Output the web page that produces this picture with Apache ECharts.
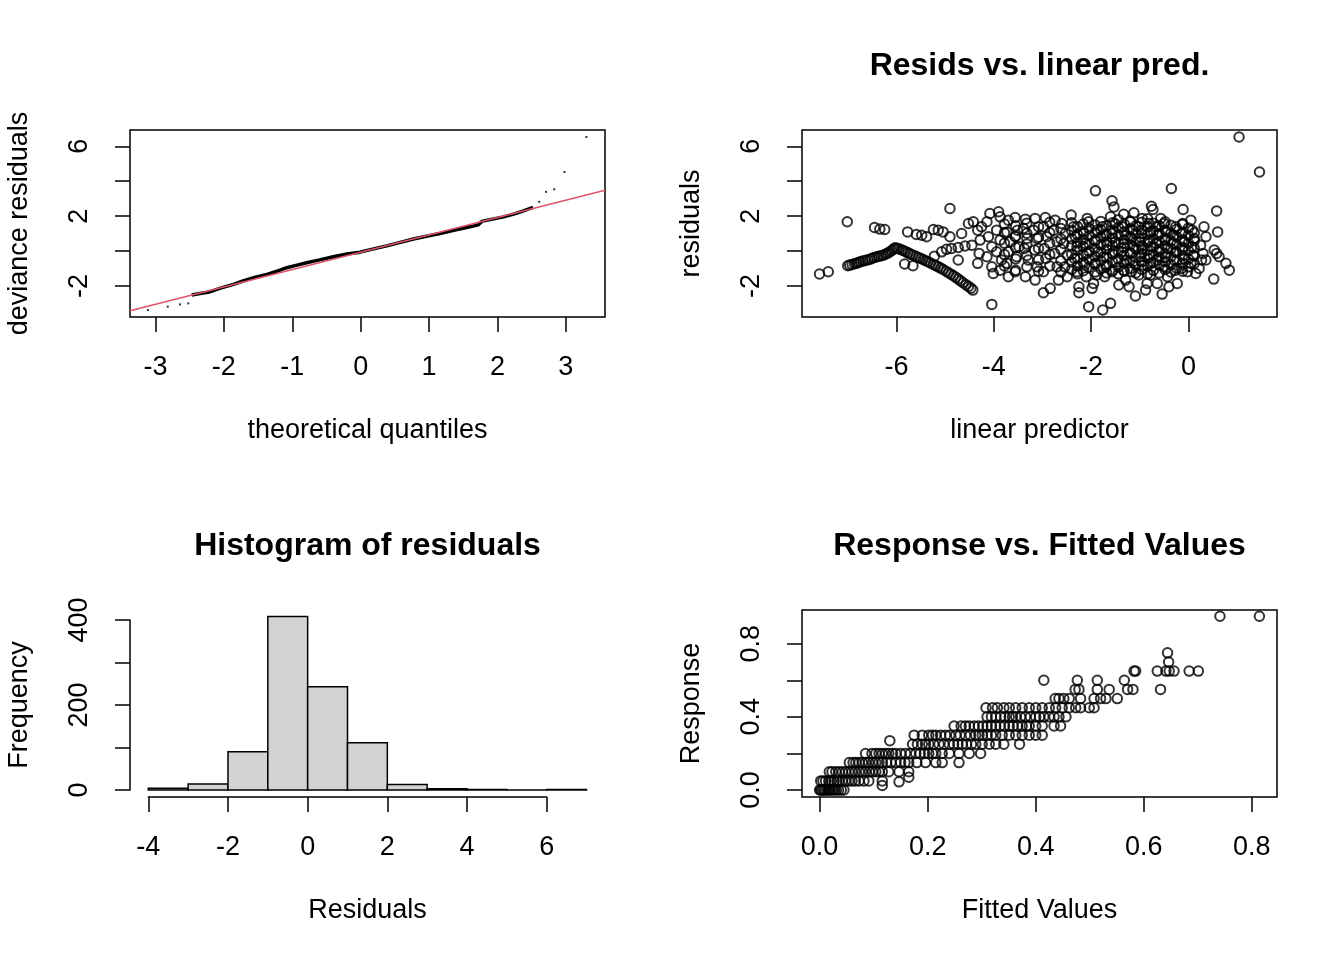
<!DOCTYPE html>
<html>
<head>
<meta charset="utf-8">
<title>gam.check</title>
<script src="https://cdn.jsdelivr.net/npm/echarts@6/dist/echarts.min.js"></script>
<style>
  html, body { margin: 0; padding: 0; background: #fff; }
  #chart { width: 1344px; height: 960px; }
</style>
</head>
<body>
<div id="chart"></div>
<script>
// ---- QQ plot (theoretical quantile, deviance residual) ----
// dense middle part of the points, read along the band
const qqBand = [[-2.47,-2.51],[-2.35,-2.42],[-2.23,-2.36],[-2.06,-2.13],[-1.86,-1.90],[-1.72,-1.71],
  [-1.55,-1.50],[-1.37,-1.33],[-1.20,-1.12],[-1.08,-0.95],[-0.93,-0.80],[-0.79,-0.67],[-0.60,-0.50],
  [-0.40,-0.32],[-0.20,-0.17],[-0.01,-0.06],[0.19,0.13],[0.38,0.30],[0.58,0.50],[0.77,0.69],[0.96,0.85],
  [1.16,1.01],[1.36,1.19],[1.55,1.35],[1.72,1.50],[1.77,1.70],[1.89,1.80],[2.09,1.96],[2.25,2.13],
  [2.38,2.30],[2.52,2.50]];
// loose points in the tails
const qqTail = [[-3.11,-3.37],[-2.82,-3.18],[-2.64,-3.05],[-2.52,-2.99],[2.61,2.82],[2.71,3.39],
  [2.83,3.54],[2.98,4.53],[3.30,6.53]];
// reference line, given by its ends at the plot edges
const qqRef = [[-3.372,-3.41],[3.572,3.486]];

// ---- residuals vs linear predictor ----
const linPredResid = [
  // chain on the left: up to the kink near -6, then down
  [-7.58,-1.31],[-7.40,-1.18],[-7.01,1.68],[-7.00,-0.84],[-6.96,-0.80],[-6.91,-0.76],[-6.86,-0.72],
  [-6.82,-0.69],[-6.78,-0.65],[-6.74,-0.61],[-6.69,-0.57],[-6.64,-0.53],[-6.59,-0.50],[-6.54,-0.46],
  [-6.50,-0.41],[-6.45,-0.36],[-6.40,-0.32],[-6.36,-0.29],[-6.31,-0.26],[-6.27,-0.23],[-6.23,-0.18],
  [-6.19,-0.13],[-6.15,-0.06],[-6.10,0.02],[-6.06,0.11],[-6.03,0.19],[-5.99,0.16],[-5.95,0.13],
  [-5.90,0.08],[-5.86,0.04],[-5.81,-0.03],[-5.76,-0.10],[-5.71,-0.17],[-5.66,-0.23],[-5.60,-0.30],
  [-5.55,-0.36],[-5.50,-0.42],[-5.45,-0.48],[-5.40,-0.55],[-5.35,-0.61],[-5.30,-0.68],[-5.24,-0.76],
  [-5.19,-0.83],[-5.14,-0.90],[-5.09,-0.97],[-5.04,-1.05],[-4.98,-1.15],[-4.93,-1.24],[-4.88,-1.32],
  [-4.83,-1.41],[-4.78,-1.50],[-4.73,-1.60],[-4.68,-1.70],[-4.63,-1.81],[-4.57,-1.92],[-4.52,-2.02],
  [-4.47,-2.12],[-4.43,-2.23],
  [-6.45,1.35],[-6.34,1.26],[-6.24,1.24],[-5.77,1.10],[-5.59,0.95],[-5.48,0.91],[-5.38,0.82],
  [-5.24,1.24],[-5.14,1.20],[-5.04,1.10],[-4.90,0.82],[-4.90,2.44],[-5.83,-0.74],[-5.66,-0.84],
  [-5.22,-0.29],[-5.07,-0.04],[-4.97,0.10],[-4.87,0.15],[-4.73,0.21],[-4.59,0.29],[-4.45,0.34],
  [-4.73,-0.51],[-4.66,1.01],[-4.52,1.58],[-4.42,1.68],
  [-4.33,1.20],[-4.28,0.63],[-4.30,-0.13],[-4.33,-0.70],[-4.25,1.39],
  [-4.14,1.68],[-4.08,2.15],[-4.11,0.82],[-4.04,0.25],[-4.14,-0.32],[-4.04,-0.90],[-4.01,-1.28],[-4.04,-3.05],
  [-3.90,2.25],[-3.87,1.96],[-3.94,1.20],[-3.87,0.63],[-3.94,-0.04],[-3.84,-0.51],[-3.87,-1.09],
  [-3.70,1.77],[-3.73,1.10],[-3.66,0.53],[-3.70,-0.04],[-3.73,-0.70],[-3.70,-1.47],
  [-3.56,1.92],[-3.51,1.20],[-3.56,0.82],[-3.48,0.25],[-3.53,-0.32],[-3.56,-1.18],
  [-3.35,1.83],[-3.39,1.30],[-3.32,0.72],[-3.37,0.15],[-3.29,-0.51],[-3.35,-1.47],
  [-3.15,1.87],[-3.18,1.20],[-3.11,0.72],[-3.16,0.06],[-3.11,-0.90],[-3.15,-1.66],
  [-2.94,1.92],[-2.98,1.39],[-2.91,0.82],[-2.96,0.15],[-2.93,-0.42],[-2.98,-1.18],[-2.98,-2.38],[-2.84,-2.13],
  [-2.74,1.77],[-2.77,1.20],[-2.70,0.53],[-2.75,-0.13],[-2.70,-0.90],[-2.67,-1.66],
  [-2.60,1.58],[-2.53,1.01],[-2.56,0.44],[-2.49,-0.23],[-2.54,-0.90],[-2.49,-1.47],
  [-2.41,2.06],[-2.36,1.39],[-2.32,0.82],[-2.29,0.25],[-2.34,-0.42],[-2.29,-1.18],[-2.25,-2.04],[-2.25,-2.38],
  [-2.08,1.87],[-2.05,1.68],[-2.15,1.01],[-2.12,0.44],[-2.08,-0.13],[-2.13,-0.80],[-2.10,-1.47],[-2.05,-3.18],[-1.98,-2.13],
  [-1.91,3.45],[-1.88,1.20],[-1.91,0.63],[-1.86,-0.04],[-1.91,-0.70],[-1.88,-1.37],[-1.95,-1.85],
  [-1.77,1.39],[-1.70,0.91],[-1.67,0.34],[-1.74,-0.32],[-1.69,-0.90],[-1.72,-1.47],[-1.76,-3.37],[-1.60,-2.99],
  [-1.60,1.96],[-1.57,2.88],[-1.53,2.53],[-1.51,1.58],[-1.57,1.01],[-1.50,0.53],[-1.53,-0.04],[-1.48,-0.61],[-1.57,-1.18],[-1.43,-1.94],
  [-1.33,2.11],[-1.36,1.39],[-1.29,0.91],[-1.33,0.44],[-1.37,-0.04],[-1.28,-0.51],[-1.33,-1.09],[-1.29,-1.66],[-1.22,-2.04],
  [-1.12,2.19],[-1.19,1.68],[-1.14,1.20],[-1.17,0.72],[-1.12,0.25],[-1.19,-0.13],[-1.14,-0.61],[-1.17,-1.18],[-1.09,-2.57],
  [-0.95,1.87],[-1.02,1.39],[-0.96,1.01],[-1.00,0.53],[-0.95,0.10],[-0.98,-0.32],[-0.93,-0.80],[-1.02,-1.37],[-0.88,-2.23],
  [-0.76,2.57],[-0.73,2.38],[-0.81,1.58],[-0.78,1.10],[-0.82,0.63],[-0.77,0.25],[-0.81,-0.23],[-0.78,-0.70],[-0.78,-1.37],[-0.85,-1.85],
  [-0.57,1.87],[-0.67,1.39],[-0.62,0.91],[-0.66,0.44],[-0.60,-0.04],[-0.64,-0.51],[-0.64,-1.85],[-0.54,-2.46],
  [-0.50,1.58],[-0.45,1.10],[-0.48,0.63],[-0.43,0.15],[-0.47,-0.32],[-0.50,-0.90],[-0.40,-2.04],[-0.43,-1.47],
  [-0.35,3.58],[-0.26,1.39],[-0.30,0.91],[-0.32,0.44],[-0.26,-0.04],[-0.30,-0.51],[-0.27,-1.09],[-0.23,-1.85],
  [-0.11,2.38],[-0.12,1.58],[-0.14,1.01],[-0.09,0.53],[-0.12,0.06],[-0.09,-0.42],[-0.14,-0.99],[-0.02,-1.18],
  [0.05,1.77],[0.08,1.20],[0.12,0.72],[0.07,0.25],[0.10,-0.23],[0.05,-0.70],[0.15,-1.28],
  [0.32,1.39],[0.36,0.82],[0.25,0.34],[0.30,-0.13],[0.27,-0.51],[0.22,-0.99],[0.36,-0.51],
  [0.58,2.30],[0.60,1.10],[0.53,0.06],[0.58,-0.13],[0.63,-0.32],[0.52,-1.60],[0.77,-0.70],[0.84,-1.09],
  [1.04,6.53],[1.46,4.53]
];
// the packed core of the cloud, column by column (predictor, then residuals in that column)
const coreX = [-3.78, -3.55, -3.32, -3.08, -2.85, -2.62, -2.40, -2.28, -2.16, -2.04, -1.92, -1.80, -1.68,
  -1.56, -1.44, -1.32, -1.20, -1.08, -0.96, -0.84, -0.72, -0.60, -0.48, -0.36, -0.24, -0.12, 0.00, 0.12];
const coreY = [
  [-0.85,-0.20,0.45,1.05,1.55], [-1.10,-0.45,0.20,0.85,1.45], [-0.90,-0.25,0.40,1.02,1.60],
  [-1.15,-0.50,0.15,0.80,1.40], [-0.85,-0.20,0.45,1.05,1.65], [-1.20,-0.55,0.10,0.70,1.30],
  [-1.05,-0.62,-0.18,0.30,0.71,1.18,1.62], [-1.30,-0.85,-0.40,0.05,0.48,0.95,1.40],
  [-1.12,-0.66,-0.22,0.26,0.68,1.12,1.55], [-0.92,-0.48,-0.02,0.42,0.88,1.30],
  [-1.20,-0.75,-0.30,0.15,0.58,1.05,1.50], [-1.02,-0.55,-0.10,0.36,0.80,1.24,1.70],
  [-1.25,-0.80,-0.35,0.10,0.52,0.98,1.45], [-1.08,-0.62,-0.15,0.30,0.74,1.20,1.62],
  [-1.30,-0.92,-0.45,0.00,0.45,0.90,1.35,1.80], [-1.15,-0.70,-0.25,0.20,0.65,1.10,1.55],
  [-1.00,-0.55,-0.08,0.36,0.82,1.28,1.72], [-1.25,-0.80,-0.35,0.12,0.56,1.00,1.45],
  [-1.05,-0.60,-0.15,0.30,0.75,1.20,1.65], [-1.30,-0.85,-0.40,0.05,0.50,0.95,1.40,1.85],
  [-1.10,-0.65,-0.20,0.25,0.70,1.15,1.60], [-1.25,-0.80,-0.35,0.10,0.55,1.00,1.45],
  [-1.05,-0.60,-0.15,0.30,0.75,1.20,1.68], [-1.20,-0.78,-0.32,0.14,0.58,1.02,1.48],
  [-0.98,-0.52,-0.08,0.38,0.82,1.25], [-1.15,-0.70,-0.25,0.20,0.64,1.08,1.52],
  [-0.90,-0.45,0.02,0.45,0.90,1.32], [-0.70,-0.28,0.18,0.60,1.05]
];

// ---- histogram of residuals ----
const histBreaks = [-4, -3, -2, -1, 0, 1, 2, 3, 4, 5, 6, 7];
const histCounts = [4, 14, 90, 408, 243, 111, 13, 3, 1, 0, 1];

// ---- response vs fitted values (response comes in steps of 0.05) ----
const respLevels = [0.95, 0.75, 0.70, 0.65, 0.60, 0.55, 0.50, 0.45, 0.40, 0.35, 0.30, 0.25, 0.20, 0.15, 0.10, 0.05, 0.00];
const fittedAtLevel = [
  [0.741, 0.814],
  [0.644],
  [0.646],
  [0.582, 0.585, 0.625, 0.641, 0.647, 0.656, 0.684, 0.701],
  [0.415, 0.477, 0.514, 0.564],
  [0.473, 0.480, 0.514, 0.536, 0.570, 0.580, 0.631],
  [0.436, 0.443, 0.452, 0.462, 0.483, 0.508, 0.520, 0.530, 0.551],
  [0.308, 0.320, 0.329, 0.341, 0.351, 0.363, 0.375, 0.388, 0.400, 0.412, 0.425, 0.437, 0.449, 0.462, 0.474, 0.483, 0.499, 0.508],
  [0.310, 0.318, 0.326, 0.335, 0.343, 0.351, 0.357, 0.363, 0.372, 0.381, 0.390, 0.400, 0.407, 0.415, 0.425, 0.434, 0.443, 0.456],
  [0.249, 0.262, 0.270, 0.277, 0.286, 0.294, 0.302, 0.310, 0.318, 0.326, 0.334, 0.342, 0.351, 0.358, 0.366, 0.375, 0.383, 0.388, 0.400, 0.412, 0.434, 0.446],
  [0.175, 0.190, 0.202, 0.209, 0.215, 0.224, 0.233, 0.241, 0.252, 0.260, 0.270, 0.279, 0.289, 0.295, 0.301, 0.310, 0.318, 0.326, 0.338, 0.351, 0.363, 0.375, 0.388, 0.400, 0.412],
  [0.172, 0.181, 0.190, 0.196, 0.202, 0.211, 0.221, 0.230, 0.240, 0.248, 0.256, 0.264, 0.272, 0.281, 0.289, 0.301, 0.314, 0.326, 0.341, 0.370],
  [0.085, 0.097, 0.104, 0.110, 0.116, 0.122, 0.128, 0.135, 0.141, 0.150, 0.159, 0.168, 0.178, 0.186, 0.194, 0.202, 0.209, 0.215, 0.227, 0.240, 0.258, 0.277, 0.298],
  [0.055, 0.062, 0.067, 0.073, 0.079, 0.085, 0.091, 0.098, 0.104, 0.110, 0.116, 0.124, 0.132, 0.141, 0.150, 0.158, 0.165, 0.180, 0.196, 0.215, 0.227, 0.258],
  [0.018, 0.023, 0.030, 0.036, 0.042, 0.048, 0.054, 0.060, 0.066, 0.073, 0.079, 0.085, 0.092, 0.098, 0.104, 0.110, 0.116, 0.128, 0.147, 0.165],
  [0.002, 0.006, 0.011, 0.017, 0.022, 0.027, 0.032, 0.036, 0.042, 0.048, 0.054, 0.060, 0.066, 0.073, 0.082, 0.091, 0.116],
  [0.000, 0.002, 0.004, 0.007, 0.009, 0.012, 0.015, 0.018, 0.020, 0.024, 0.027, 0.031, 0.035, 0.040, 0.045]
];
const respStrays = [[0.130, 0.27], [0.165, 0.07], [0.147, 0.045], [0.116, 0.025]];

const residPts = linPredResid.slice();
coreX.forEach((x, i) => coreY[i].forEach(y => residPts.push([x, y])));

const fittedPts = [];
respLevels.forEach((r, i) => fittedAtLevel[i].forEach(f => fittedPts.push([f, r])));
respStrays.forEach(p => fittedPts.push(p));

// ---- look ----
const FONT = '"Liberation Sans", Arial, Helvetica, sans-serif';
const INK = '#000';
const LW = 1.5;
const FS = 27;

// R-like axis: outside ticks, custom tick / label positions, no split lines
function rAxis(o) {
  return {
    type: 'value',
    gridIndex: o.grid,
    min: o.min,
    max: o.max,
    interval: o.interval,
    offset: o.offset || 0,
    name: o.name,
    nameLocation: 'middle',
    nameGap: o.isY ? 97 : 100,
    nameRotate: o.isY ? 90 : 0,
    nameTextStyle: { fontFamily: FONT, fontSize: FS, color: INK, padding: o.namePad || 0 },
    splitLine: { show: false },
    axisLine: { show: !!o.line, onZero: false, lineStyle: { color: INK, width: LW } },
    axisTick: { show: true, inside: false, length: 15, customValues: o.ticks, lineStyle: { color: INK, width: LW } },
    axisLabel: {
      show: true, customValues: o.labels, margin: 37, rotate: o.isY ? 90 : 0,
      fontFamily: FONT, fontSize: FS, color: INK, formatter: o.fmt
    }
  };
}

function boxGrid(left, top, width, height) {
  return { left, top, width, height, show: true, borderColor: INK, borderWidth: LW,
    backgroundColor: 'transparent', containLabel: false, outerBoundsMode: 'none' };
}

function heading(text, x, y) {
  return { type: 'text', x: x, y: y, style: { text: text, font: 'bold 32px ' + FONT, fill: INK,
    align: 'center', verticalAlign: 'middle', textAlign: 'center', textVerticalAlign: 'middle' } };
}

const residTicks = [-2, 0, 2, 4, 6];
const residLabels = [-2, 2, 6];
const oneDec = v => v.toFixed(1);

// open circles (pch 1)
const openCircle = {
  type: 'scatter', symbol: 'circle', symbolSize: 9.5,
  itemStyle: { color: 'rgba(0,0,0,0)', borderColor: INK, borderWidth: 2 }
};

const option = {
  animation: false,
  backgroundColor: '#fff',
  grid: [
    boxGrid(130, 130, 475, 187),
    boxGrid(802, 130, 475, 187),
    // histogram: grid spans exactly the ticked range, axes pushed out with offset
    { left: 148.3, top: 620, width: 398.4, height: 170, show: false, containLabel: false, outerBoundsMode: 'none' },
    boxGrid(802, 610, 475, 187)
  ],
  xAxis: [
    rAxis({ grid: 0, min: -3.372, max: 3.572, ticks: [-3, -2, -1, 0, 1, 2, 3], labels: [-3, -2, -1, 0, 1, 2, 3], name: 'theoretical quantiles' }),
    rAxis({ grid: 1, min: -7.94, max: 1.82, ticks: [-6, -4, -2, 0], labels: [-6, -4, -2, 0], name: 'linear predictor' }),
    // name is centred on the whole plot region, not on the tick range -> pad it right
    rAxis({ grid: 2, min: -4, max: 6, interval: 2, offset: 7, line: true, name: 'Residuals', namePad: [0, 0, 0, 40] }),
    rAxis({ grid: 3, min: -0.0326, max: 0.8466, ticks: [0, 0.2, 0.4, 0.6, 0.8], labels: [0, 0.2, 0.4, 0.6, 0.8], fmt: oneDec, name: 'Fitted Values' })
  ],
  yAxis: [
    rAxis({ grid: 0, isY: true, min: -3.77, max: 6.93, ticks: residTicks, labels: residLabels, name: 'deviance residuals' }),
    rAxis({ grid: 1, isY: true, min: -3.77, max: 6.93, ticks: residTicks, labels: residLabels, name: 'residuals' }),
    rAxis({ grid: 2, isY: true, min: 0, max: 400, interval: 100, offset: 18.3, line: true, name: 'Frequency',
      fmt: v => (v % 200 === 0 ? String(v) : '') }),
    rAxis({ grid: 3, isY: true, min: -0.038, max: 0.984, ticks: [0, 0.2, 0.4, 0.6, 0.8], labels: [0, 0.4, 0.8], fmt: oneDec, name: 'Response' })
  ],
  graphic: [
    heading('Resids vs. linear pred.', 1039.5, 66),
    heading('Histogram of residuals', 367.5, 546),
    heading('Response vs. Fitted Values', 1039.5, 546)
  ],
  series: [
    // QQ points: the packed band and the loose tail points
    { type: 'line', xAxisIndex: 0, yAxisIndex: 0, data: qqBand, symbol: 'none',
      lineStyle: { color: INK, width: 3.5 } },
    { type: 'scatter', xAxisIndex: 0, yAxisIndex: 0, data: qqTail, symbol: 'rect', symbolSize: 2,
      itemStyle: { color: INK } },
    { type: 'line', xAxisIndex: 0, yAxisIndex: 0, data: qqRef, symbol: 'none',
      lineStyle: { color: '#DF536B', width: LW } },
    Object.assign({ xAxisIndex: 1, yAxisIndex: 1, data: residPts }, openCircle),
    {
      type: 'custom', xAxisIndex: 2, yAxisIndex: 2,
      data: histCounts.map((c, i) => [histBreaks[i], histBreaks[i + 1], c]),
      encode: { x: [0, 1], y: 2 },
      renderItem: function (params, api) {
        const lo = api.coord([api.value(0), 0]);
        const hi = api.coord([api.value(1), api.value(2)]);
        return {
          type: 'rect',
          shape: { x: lo[0], y: hi[1], width: hi[0] - lo[0], height: lo[1] - hi[1] },
          style: { fill: '#D3D3D3', stroke: INK, lineWidth: LW }
        };
      }
    },
    Object.assign({ xAxisIndex: 3, yAxisIndex: 3, data: fittedPts }, openCircle)
  ]
};

const myChart = echarts.init(document.getElementById('chart'));
myChart.setOption(option);
</script>
</body>
</html>
